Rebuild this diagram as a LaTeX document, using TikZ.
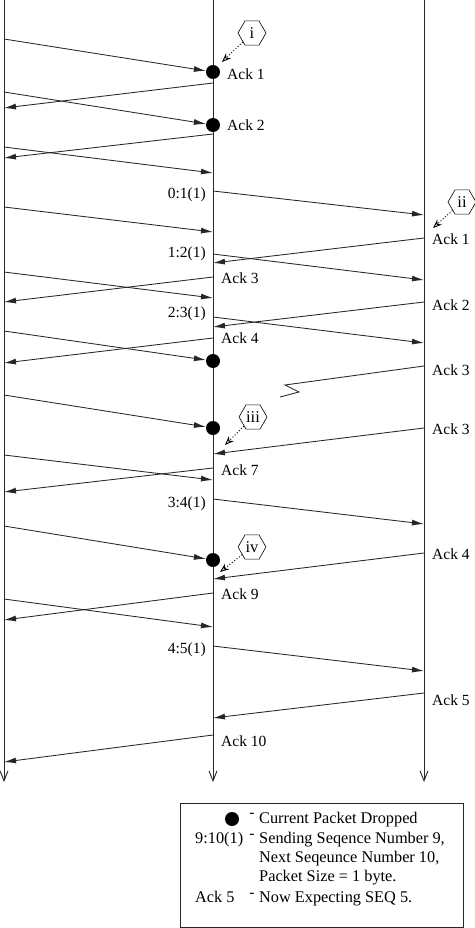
\documentclass[tikz,border=0pt]{standalone}
\usepackage{fontspec}
\setmainfont{Liberation Serif}
\usetikzlibrary{arrows.meta,shapes.geometric}
\begin{document}
\begin{tikzpicture}[x=1pt,y=-1pt,
  font=\fontsize{15.5}{18}\selectfont,
  lifeline/.style={line width=0.9pt,draw=black!85,-{Straight Barb[length=10pt,width=8pt]}},
  msg/.style={line width=0.85pt,draw=black!85,-{Latex[length=12pt,width=6pt]}},
  plainmsg/.style={line width=0.85pt,draw=black!85},
  dropdot/.style={circle,fill=black,inner sep=0pt,minimum size=14pt},
  hexlabel/.style={regular polygon,regular polygon sides=6,draw,line width=0.6pt,inner sep=0pt,minimum size=28pt,font=\fontsize{16.5}{18}\selectfont},
  pointer/.style={line width=0.9pt,dash pattern=on 1pt off 2pt,-{Stealth[open,length=9pt,width=7pt]}},
  lbl/.style={inner sep=0pt,anchor=base west},
  seqlbl/.style={inner sep=0pt,anchor=base east},
  keylbl/.style={inner sep=0pt,anchor=base west,font=\fontsize{16.3}{18}\selectfont},
  dashlbl/.style={inner sep=0pt,anchor=center},
]
\useasboundingbox (0,0) rectangle (474,928);

% lifelines
\coordinate (Ltop) at (4,0);   \coordinate (Lbot) at (4,782);
\coordinate (Mtop) at (213,0); \coordinate (Mbot) at (213,782);
\coordinate (Rtop) at (424,0); \coordinate (Rbot) at (424,782);
\draw[lifeline] (Ltop) -- (Lbot);
\draw[lifeline] (Mtop) -- (Mbot);
\draw[lifeline] (Rtop) -- (Rbot);

% dropped packets
\node[dropdot] (dot1) at (213,72) {};
\node[dropdot] (dot2) at (213,125) {};
\node[dropdot] (dot3) at (213,361) {};
\node[dropdot] (dot4) at (213,428) {};
\node[dropdot] (dot5) at (213,560) {};

% left -> middle
\coordinate (a1) at (4,39);
\coordinate (a2) at (4,92);
\coordinate (a3) at (4,147);  \coordinate (a3e) at (213,173);
\coordinate (a4) at (4,207);  \coordinate (a4e) at (213,232);
\coordinate (a5) at (4,272);  \coordinate (a5e) at (213,298);
\coordinate (a6) at (4,331);
\coordinate (a7) at (4,395);
\coordinate (a8) at (4,455);  \coordinate (a8e) at (213,480);
\coordinate (a9) at (4,526);
\coordinate (a10) at (4,599); \coordinate (a10e) at (213,627);
\draw[msg] (a1) -- (dot1);
\draw[msg] (a2) -- (dot2);
\draw[msg] (a3) -- (a3e);
\draw[msg] (a4) -- (a4e);
\draw[msg] (a5) -- (a5e);
\draw[msg] (a6) -- (dot3);
\draw[msg] (a7) -- (dot4);
\draw[msg] (a8) -- (a8e);
\draw[msg] (a9) -- (dot5);
\draw[msg] (a10) -- (a10e);

% middle -> left (acks)
\coordinate (b1) at (213,83);  \coordinate (b1e) at (4,108);
\coordinate (b2) at (213,134); \coordinate (b2e) at (4,158);
\coordinate (b3) at (213,277); \coordinate (b3e) at (4,302);
\coordinate (b4) at (213,338); \coordinate (b4e) at (4,363);
\coordinate (b5) at (213,468); \coordinate (b5e) at (4,492);
\coordinate (b6) at (213,593); \coordinate (b6e) at (4,620);
\coordinate (b7) at (213,735); \coordinate (b7e) at (4,762);
\draw[msg] (b1) -- (b1e);
\draw[msg] (b2) -- (b2e);
\draw[msg] (b3) -- (b3e);
\draw[msg] (b4) -- (b4e);
\draw[msg] (b5) -- (b5e);
\draw[msg] (b6) -- (b6e);
\draw[msg] (b7) -- (b7e);
\node[lbl] (lb1) at (227,80) {Ack 1};
\node[lbl] (lb2) at (227,131) {Ack 2};
\node[lbl] (lb3) at (221,283) {Ack 3};
\node[lbl] (lb4) at (221,343) {Ack 4};
\node[lbl] (lb5) at (221,475) {Ack 7};
\node[lbl] (lb6) at (221,599) {Ack 9};
\node[lbl] (lb7) at (221,746) {Ack 10};

% middle -> right
\coordinate (c1) at (213,191); \coordinate (c1e) at (424,215);
\coordinate (c2) at (213,254); \coordinate (c2e) at (424,280);
\coordinate (c3) at (213,317); \coordinate (c3e) at (424,343);
\coordinate (c4) at (213,499); \coordinate (c4e) at (424,524);
\coordinate (c5) at (213,646); \coordinate (c5e) at (424,671);
\draw[msg] (c1) -- (c1e);
\draw[msg] (c2) -- (c2e);
\draw[msg] (c3) -- (c3e);
\draw[msg] (c4) -- (c4e);
\draw[msg] (c5) -- (c5e);
\node[seqlbl] (lc1) at (206,198) {0:1(1)};
\node[seqlbl] (lc2) at (206,257) {1:2(1)};
\node[seqlbl] (lc3) at (206,317) {2:3(1)};
\node[seqlbl] (lc4) at (206,507) {3:4(1)};
\node[seqlbl] (lc5) at (206,653) {4:5(1)};

% right -> middle
\coordinate (d1) at (424,238); \coordinate (d1e) at (213,263);
\coordinate (d2) at (424,302); \coordinate (d2e) at (213,327);
\coordinate (d3) at (424,366); \coordinate (z1) at (285,385);
\coordinate (z2) at (299,392); \coordinate (z3) at (280,397);
\coordinate (d4) at (424,428); \coordinate (d4e) at (213,454);
\coordinate (d5) at (424,553); \coordinate (d5e) at (213,579);
\coordinate (d6) at (424,693); \coordinate (d6e) at (213,718);
\draw[msg] (d1) -- (d1e);
\draw[msg] (d2) -- (d2e);
\draw[plainmsg] (d3) -- (z1) -- (z2) -- (z3);
\draw[msg] (d4) -- (d4e);
\draw[msg] (d5) -- (d5e);
\draw[msg] (d6) -- (d6e);
\node[lbl] (ld1) at (432,244) {Ack 1};
\node[lbl] (ld2) at (432,310) {Ack 2};
\node[lbl] (ld3) at (432,375) {Ack 3};
\node[lbl] (ld4) at (432,434) {Ack 3};
\node[lbl] (ld5) at (432,559) {Ack 4};
\node[lbl] (ld6) at (432,705) {Ack 5};

% callouts
\node[hexlabel] (h1) at (252,33) {i};
\node[hexlabel] (h2) at (462,202) {ii};
\node[hexlabel] (h3) at (253,417) {iii};
\node[hexlabel] (h4) at (252,547) {iv};
\coordinate (p1) at (222,62);
\coordinate (p2) at (433,228);
\coordinate (p3) at (225,445);
\coordinate (p4) at (220,572);
\draw[pointer] (h1) -- (p1);
\draw[pointer] (h2) -- (p2);
\draw[pointer] (h3) -- (p3);
\draw[pointer] (h4) -- (p4);

% legend
\draw[line width=0.8pt,draw=black!85] (180,803) rectangle (463,927.5);
\node[dropdot] (kdot) at (232,819) {};
\node[dashlbl] (k1d) at (252,815) {-};
\node[keylbl] (k1) at (259,823) {Current Packet Dropped};
\node[keylbl] (k2s) at (195,843) {9:10(1)};
\node[dashlbl] (k2d) at (252,836) {-};
\node[keylbl] (k2a) at (259,843) {Sending Seqence Number 9,};
\node[keylbl] (k2b) at (259,862) {Next Seqeunce Number 10,};
\node[keylbl] (k2c) at (259,881) {Packet Size = 1 byte.};
\node[keylbl] (k3s) at (195,902) {Ack 5};
\node[dashlbl] (k3d) at (252,895) {-};
\node[keylbl] (k3) at (259,902) {Now Expecting SEQ 5.};
\end{tikzpicture}
\end{document}
